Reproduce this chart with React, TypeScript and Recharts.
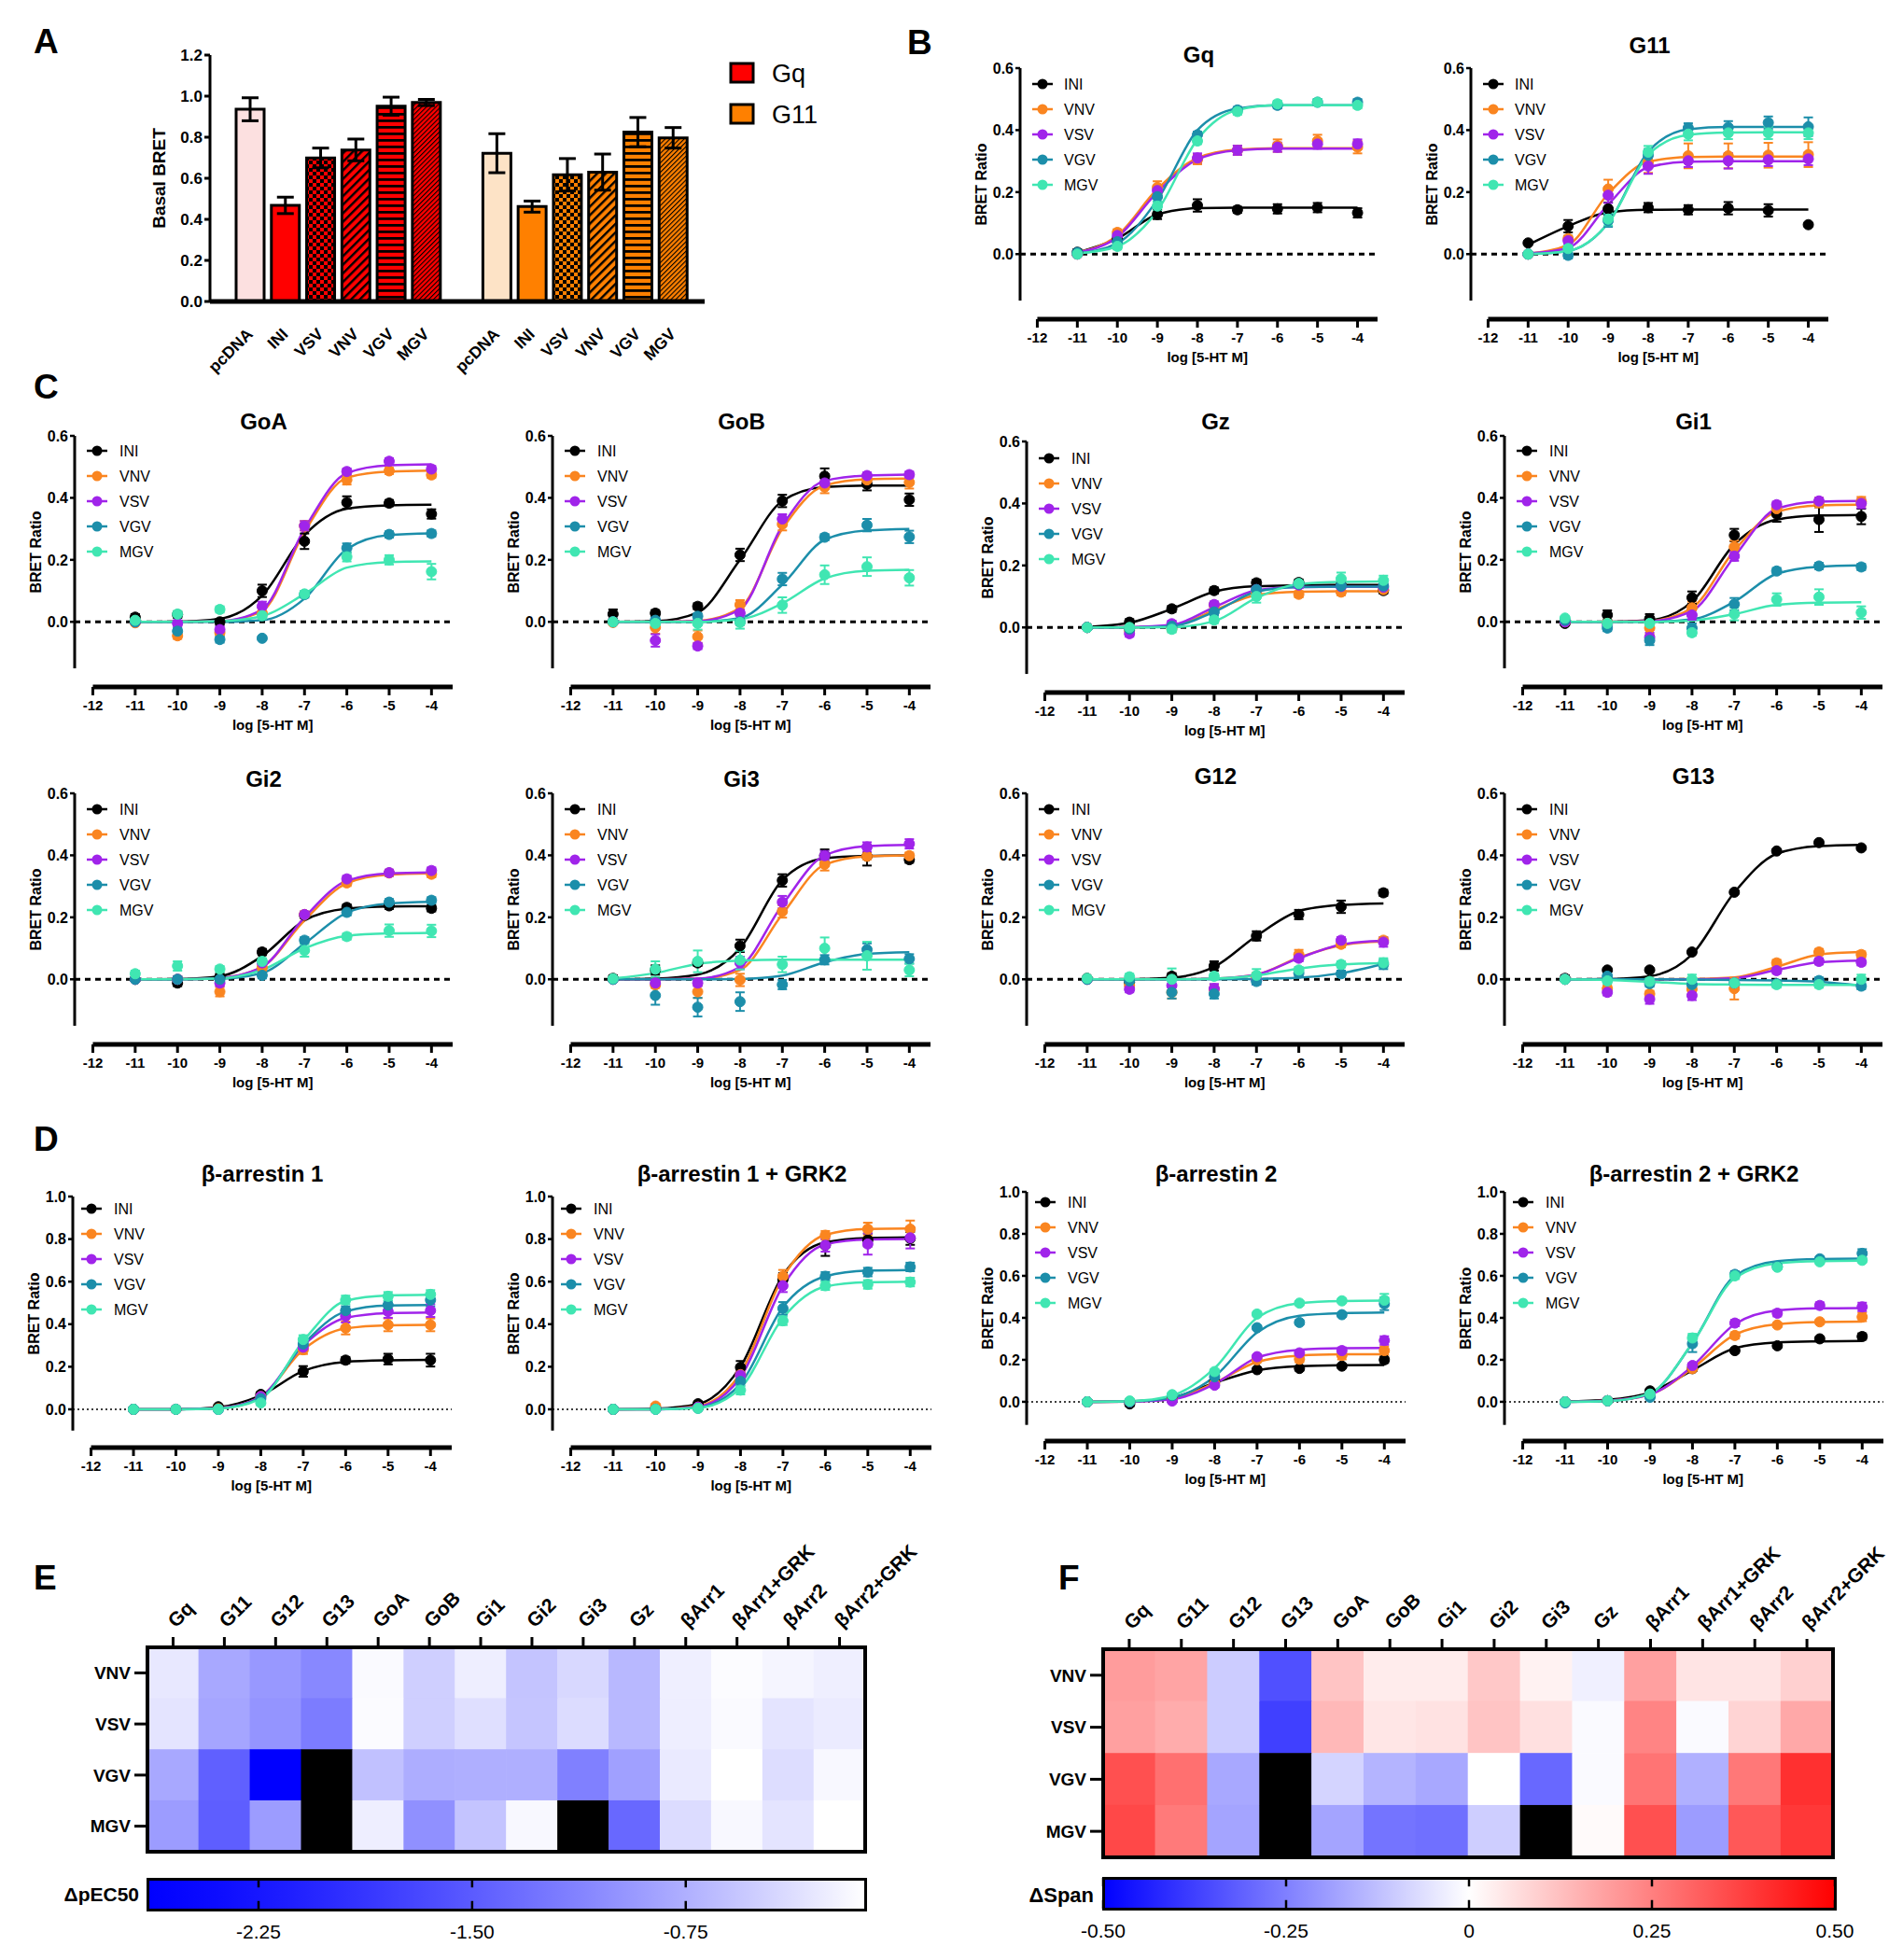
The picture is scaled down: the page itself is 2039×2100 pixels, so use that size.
import React from 'react';
import {
  ComposedChart, BarChart, ScatterChart, Bar, Line, Scatter, XAxis, YAxis,
  ErrorBar, Cell, ReferenceLine, ReferenceArea,
} from 'recharts';

const FONT = '"Liberation Sans", Arial, Helvetica, sans-serif';

// ---------------- Panel A data ----------------
const A_GROUPS = ['Gq', 'G11'];
const A_VARIANTS = ['pcDNA', 'INI', 'VSV', 'VNV', 'VGV', 'MGV'];
const A_GQ_MEAN = [0.936, 0.468, 0.699, 0.738, 0.951, 0.969];
const A_GQ_ERR = [0.056, 0.04, 0.048, 0.053, 0.044, 0.015];
const A_G11_MEAN = [0.722, 0.462, 0.617, 0.63, 0.825, 0.797];
const A_G11_ERR = [0.095, 0.027, 0.079, 0.088, 0.071, 0.05];
const A_TICKS = [0, 0.2, 0.4, 0.6, 0.8, 1.0, 1.2];

// ---------------- Dose-response data ----------------
const LOG_DOSE = [-11, -10, -9, -8, -7, -6, -5, -4];
const X_TICKS = [-12, -11, -10, -9, -8, -7, -6, -5, -4];
const SERIES = ['INI', 'VNV', 'VSV', 'VGV', 'MGV'];
const COLORS: Record<string, string> = {
  INI: '#000000', VNV: '#FA8520', VSV: '#A024EA', VGV: '#1C8EAA', MGV: '#40E6B2',
};
const G_TICKS = [0, 0.2, 0.4, 0.6];
const ARR_TICKS = [0, 0.2, 0.4, 0.6, 0.8, 1.0];

const GQ_MEAN = {
  INI: [0.006, 0.05, 0.128, 0.157, 0.143, 0.146, 0.15, 0.133],
  VNV: [0.0, 0.07, 0.215, 0.305, 0.335, 0.35, 0.365, 0.345],
  VSV: [0.0, 0.06, 0.205, 0.31, 0.335, 0.345, 0.355, 0.355],
  VGV: [0.005, 0.04, 0.185, 0.385, 0.465, 0.48, 0.49, 0.49],
  MGV: [0.0, 0.025, 0.155, 0.365, 0.46, 0.485, 0.49, 0.48],
};
const GQ_FIT = {
  INI: [0.005, 0.05, 0.128, 0.148, 0.15, 0.15, 0.15, 0.15],
  VNV: [0.005, 0.06, 0.21, 0.31, 0.337, 0.342, 0.342, 0.342],
  VSV: [0.005, 0.055, 0.2, 0.305, 0.335, 0.34, 0.34, 0.34],
  VGV: [0.002, 0.035, 0.175, 0.4, 0.47, 0.48, 0.48, 0.48],
  MGV: [0.002, 0.025, 0.14, 0.37, 0.465, 0.48, 0.48, 0.48],
};
const GQ_ERR = {
  INI: [0.01, 0.01, 0.015, 0.02, 0.01, 0.015, 0.015, 0.015],
  VNV: [0.005, 0.01, 0.02, 0.015, 0.015, 0.02, 0.02, 0.02],
  VSV: [0.005, 0.01, 0.015, 0.015, 0.015, 0.015, 0.015, 0.015],
  VGV: [0.005, 0.01, 0.015, 0.01, 0.01, 0.01, 0.01, 0.01],
  MGV: [0.005, 0.01, 0.015, 0.01, 0.01, 0.01, 0.01, 0.01],
};

const G11_MEAN = {
  INI: [0.036, 0.09, 0.146, 0.15, 0.143, 0.148, 0.141, 0.095],
  VNV: [0.0, 0.05, 0.21, 0.297, 0.317, 0.317, 0.319, 0.321],
  VSV: [0.0, 0.043, 0.19, 0.284, 0.301, 0.301, 0.304, 0.307],
  VGV: [0.0, -0.004, 0.108, 0.319, 0.407, 0.409, 0.424, 0.411],
  MGV: [0.0, 0.018, 0.113, 0.329, 0.387, 0.391, 0.391, 0.391],
};
const G11_FIT = {
  INI: [0.03, 0.09, 0.135, 0.143, 0.144, 0.144, 0.144, 0.144],
  VNV: [0.002, 0.03, 0.195, 0.298, 0.313, 0.315, 0.315, 0.315],
  VSV: [0.002, 0.02, 0.16, 0.28, 0.298, 0.3, 0.3, 0.3],
  VGV: [0.0, 0.01, 0.1, 0.33, 0.403, 0.41, 0.41, 0.41],
  MGV: [0.0, 0.01, 0.1, 0.32, 0.385, 0.392, 0.393, 0.393],
};
const G11_ERR = {
  INI: [0.005, 0.02, 0.02, 0.015, 0.015, 0.02, 0.02, 0.005],
  VNV: [0.005, 0.01, 0.03, 0.035, 0.04, 0.04, 0.04, 0.04],
  VSV: [0.005, 0.01, 0.025, 0.025, 0.02, 0.025, 0.02, 0.02],
  VGV: [0.005, 0.01, 0.02, 0.02, 0.015, 0.02, 0.02, 0.03],
  MGV: [0.005, 0.01, 0.02, 0.02, 0.02, 0.02, 0.02, 0.02],
};

const GOA_MEAN = {
  INI: [0.015, 0.023, 0.0, 0.1, 0.26, 0.385, 0.383, 0.348],
  VNV: [-0.003, -0.045, -0.035, 0.028, 0.31, 0.458, 0.487, 0.474],
  VSV: [0.0, -0.005, -0.025, 0.05, 0.31, 0.485, 0.518, 0.493],
  VGV: [0.0, -0.03, -0.057, -0.053, 0.088, 0.238, 0.282, 0.285],
  MGV: [0.005, 0.025, 0.04, 0.02, 0.09, 0.21, 0.2, 0.162],
};
const GOA_FIT = {
  INI: [0.0, 0.001, 0.01, 0.085, 0.28, 0.365, 0.376, 0.378],
  VNV: [0.0, 0.0, 0.002, 0.035, 0.29, 0.465, 0.485, 0.488],
  VSV: [0.0, 0.0, 0.002, 0.04, 0.3, 0.48, 0.505, 0.508],
  VGV: [0.0, 0.0, 0.0, 0.005, 0.075, 0.235, 0.28, 0.285],
  MGV: [0.0, 0.0, 0.002, 0.018, 0.09, 0.175, 0.193, 0.195],
};
const GOA_ERR = {
  INI: [0.01, 0.01, 0.01, 0.02, 0.025, 0.02, 0.01, 0.015],
  VNV: [0.005, 0.01, 0.01, 0.015, 0.015, 0.015, 0.01, 0.01],
  VSV: [0.005, 0.01, 0.01, 0.015, 0.015, 0.01, 0.01, 0.01],
  VGV: [0.005, 0.01, 0.01, 0.005, 0.01, 0.015, 0.01, 0.01],
  MGV: [0.005, 0.01, 0.01, 0.01, 0.01, 0.015, 0.015, 0.025],
};

const GOB_MEAN = {
  INI: [0.025, 0.028, 0.05, 0.216, 0.39, 0.47, 0.444, 0.394],
  VNV: [-0.002, -0.018, -0.048, 0.055, 0.315, 0.435, 0.458, 0.45],
  VSV: [0.0, -0.06, -0.078, 0.028, 0.332, 0.448, 0.472, 0.475],
  VGV: [0.0, 0.005, 0.018, 0.0, 0.138, 0.273, 0.312, 0.274],
  MGV: [0.0, -0.005, -0.005, -0.002, 0.054, 0.152, 0.178, 0.142],
};
const GOB_FIT = {
  INI: [0.0, 0.002, 0.03, 0.2, 0.39, 0.435, 0.44, 0.44],
  VNV: [0.0, 0.0, 0.003, 0.045, 0.3, 0.44, 0.46, 0.462],
  VSV: [0.0, 0.0, 0.002, 0.04, 0.31, 0.455, 0.472, 0.475],
  VGV: [0.0, 0.0, 0.0, 0.012, 0.12, 0.265, 0.295, 0.3],
  MGV: [0.0, 0.0, 0.0, 0.008, 0.06, 0.14, 0.165, 0.168],
};
const GOB_ERR = {
  INI: [0.015, 0.01, 0.01, 0.02, 0.02, 0.025, 0.02, 0.02],
  VNV: [0.005, 0.02, 0.02, 0.015, 0.02, 0.02, 0.015, 0.02],
  VSV: [0.005, 0.02, 0.01, 0.01, 0.015, 0.015, 0.01, 0.01],
  VGV: [0.005, 0.01, 0.01, 0.01, 0.02, 0.01, 0.02, 0.02],
  MGV: [0.005, 0.01, 0.02, 0.02, 0.025, 0.03, 0.03, 0.025],
};

const GZ_MEAN = {
  INI: [0.0, 0.017, 0.06, 0.119, 0.144, 0.145, 0.136, 0.119],
  VNV: [0.0, -0.01, -0.003, 0.072, 0.112, 0.107, 0.114, 0.122],
  VSV: [0.0, -0.02, 0.012, 0.074, 0.122, 0.137, 0.132, 0.13],
  VGV: [0.0, -0.005, 0.004, 0.05, 0.122, 0.14, 0.134, 0.134],
  MGV: [0.0, 0.0, -0.006, 0.024, 0.1, 0.142, 0.157, 0.152],
};
const GZ_FIT = {
  INI: [0.002, 0.015, 0.06, 0.115, 0.133, 0.136, 0.137, 0.137],
  VNV: [0.0, 0.0, 0.005, 0.055, 0.105, 0.115, 0.117, 0.117],
  VSV: [0.0, 0.001, 0.008, 0.065, 0.12, 0.13, 0.131, 0.131],
  VGV: [0.0, 0.0, 0.004, 0.05, 0.115, 0.13, 0.132, 0.132],
  MGV: [0.0, 0.0, 0.001, 0.02, 0.095, 0.14, 0.147, 0.148],
};
const GZ_ERR = {
  INI: [0.005, 0.01, 0.01, 0.01, 0.01, 0.01, 0.01, 0.01],
  VNV: [0.005, 0.01, 0.01, 0.01, 0.01, 0.01, 0.01, 0.01],
  VSV: [0.005, 0.01, 0.01, 0.01, 0.01, 0.01, 0.01, 0.01],
  VGV: [0.005, 0.01, 0.01, 0.01, 0.01, 0.01, 0.01, 0.01],
  MGV: [0.005, 0.01, 0.01, 0.01, 0.02, 0.01, 0.02, 0.015],
};

const GI1_MEAN = {
  INI: [-0.005, 0.022, 0.01, 0.078, 0.28, 0.348, 0.33, 0.34],
  VNV: [0.0, -0.005, -0.02, 0.045, 0.242, 0.365, 0.385, 0.388],
  VSV: [0.0, -0.01, -0.05, 0.022, 0.212, 0.378, 0.39, 0.382],
  VGV: [0.005, -0.02, -0.06, -0.02, 0.057, 0.164, 0.18, 0.177],
  MGV: [0.012, -0.005, -0.005, -0.035, 0.025, 0.072, 0.08, 0.03],
};
const GI1_FIT = {
  INI: [0.0, 0.0, 0.005, 0.065, 0.25, 0.33, 0.343, 0.345],
  VNV: [0.0, 0.0, 0.003, 0.045, 0.23, 0.355, 0.376, 0.378],
  VSV: [0.0, 0.0, 0.002, 0.035, 0.21, 0.365, 0.388, 0.39],
  VGV: [0.0, 0.0, 0.0, 0.008, 0.065, 0.155, 0.178, 0.182],
  MGV: [0.0, 0.0, 0.0, 0.004, 0.025, 0.055, 0.062, 0.063],
};
const GI1_ERR = {
  INI: [0.005, 0.015, 0.015, 0.02, 0.02, 0.025, 0.04, 0.025],
  VNV: [0.005, 0.01, 0.02, 0.02, 0.02, 0.015, 0.015, 0.015],
  VSV: [0.005, 0.01, 0.015, 0.015, 0.015, 0.01, 0.01, 0.015],
  VGV: [0.005, 0.01, 0.015, 0.015, 0.02, 0.01, 0.01, 0.01],
  MGV: [0.005, 0.01, 0.01, 0.01, 0.02, 0.02, 0.025, 0.02],
};

const GI2_MEAN = {
  INI: [0.0, -0.012, 0.008, 0.088, 0.207, 0.232, 0.237, 0.229],
  VNV: [0.0, 0.0, -0.04, 0.038, 0.209, 0.311, 0.343, 0.339],
  VSV: [0.0, 0.0, -0.012, 0.053, 0.209, 0.324, 0.344, 0.351],
  VGV: [0.0, 0.0, 0.0, 0.013, 0.126, 0.216, 0.249, 0.255],
  MGV: [0.018, 0.043, 0.033, 0.058, 0.093, 0.138, 0.157, 0.156],
};
const GI2_FIT = {
  INI: [0.0, 0.001, 0.01, 0.075, 0.19, 0.228, 0.235, 0.236],
  VNV: [0.0, 0.0, 0.004, 0.04, 0.19, 0.31, 0.338, 0.342],
  VSV: [0.0, 0.0, 0.004, 0.04, 0.2, 0.318, 0.342, 0.345],
  VGV: [0.0, 0.0, 0.002, 0.02, 0.115, 0.215, 0.245, 0.25],
  MGV: [0.0, 0.0, 0.003, 0.03, 0.1, 0.14, 0.148, 0.15],
};
const GI2_ERR = {
  INI: [0.005, 0.01, 0.01, 0.01, 0.01, 0.01, 0.01, 0.01],
  VNV: [0.005, 0.01, 0.015, 0.01, 0.01, 0.01, 0.01, 0.01],
  VSV: [0.005, 0.01, 0.01, 0.01, 0.01, 0.01, 0.01, 0.01],
  VGV: [0.005, 0.01, 0.01, 0.01, 0.01, 0.01, 0.01, 0.01],
  MGV: [0.01, 0.015, 0.01, 0.01, 0.02, 0.01, 0.02, 0.02],
};

const GI3_MEAN = {
  INI: [0.003, 0.03, 0.053, 0.108, 0.319, 0.399, 0.397, 0.386],
  VNV: [0.0, -0.018, -0.04, -0.002, 0.219, 0.371, 0.397, 0.399],
  VSV: [0.0, -0.012, -0.012, 0.053, 0.249, 0.399, 0.427, 0.437],
  VGV: [0.0, -0.052, -0.09, -0.072, -0.017, 0.063, 0.096, 0.066],
  MGV: [0.002, 0.033, 0.058, 0.062, 0.048, 0.1, 0.076, 0.03],
};
const GI3_FIT = {
  INI: [0.0, 0.002, 0.015, 0.1, 0.32, 0.39, 0.398, 0.4],
  VNV: [0.0, 0.0, 0.002, 0.03, 0.21, 0.37, 0.397, 0.4],
  VSV: [0.0, 0.0, 0.002, 0.04, 0.24, 0.4, 0.43, 0.434],
  VGV: [0.0, 0.0, 0.0, 0.001, 0.012, 0.055, 0.082, 0.087],
  MGV: [0.003, 0.02, 0.05, 0.06, 0.063, 0.063, 0.063, 0.063],
};
const GI3_ERR = {
  INI: [0.01, 0.015, 0.01, 0.02, 0.02, 0.02, 0.03, 0.01],
  VNV: [0.005, 0.01, 0.02, 0.02, 0.02, 0.02, 0.01, 0.01],
  VSV: [0.005, 0.01, 0.01, 0.02, 0.02, 0.015, 0.015, 0.015],
  VGV: [0.005, 0.03, 0.03, 0.03, 0.015, 0.015, 0.02, 0.015],
  MGV: [0.005, 0.025, 0.035, 0.03, 0.025, 0.035, 0.045, 0.02],
};

const G12_MEAN = {
  INI: [0.003, -0.01, 0.01, 0.043, 0.14, 0.209, 0.234, 0.279],
  VNV: [0.0, -0.02, -0.042, -0.032, 0.006, 0.08, 0.113, 0.126],
  VSV: [0.0, -0.032, -0.02, -0.03, -0.002, 0.068, 0.126, 0.12],
  VGV: [0.0, -0.005, -0.042, -0.047, -0.007, 0.02, 0.018, 0.048],
  MGV: [0.003, 0.008, 0.0, 0.01, 0.013, 0.03, 0.048, 0.053],
};
const G12_FIT = {
  INI: [0.0, 0.0, 0.005, 0.04, 0.14, 0.22, 0.24, 0.245],
  VNV: [0.0, 0.0, 0.0, 0.002, 0.015, 0.07, 0.11, 0.123],
  VSV: [0.0, 0.0, 0.0, 0.002, 0.015, 0.068, 0.112, 0.125],
  VGV: [0.0, 0.0, 0.0, 0.0, 0.001, 0.005, 0.02, 0.05],
  MGV: [0.0, 0.0, 0.0, 0.002, 0.012, 0.035, 0.048, 0.052],
};
const G12_ERR = {
  INI: [0.005, 0.01, 0.01, 0.015, 0.015, 0.015, 0.02, 0.01],
  VNV: [0.005, 0.01, 0.02, 0.015, 0.015, 0.015, 0.01, 0.01],
  VSV: [0.005, 0.01, 0.02, 0.015, 0.015, 0.01, 0.01, 0.015],
  VGV: [0.005, 0.01, 0.02, 0.015, 0.01, 0.01, 0.01, 0.015],
  MGV: [0.005, 0.01, 0.035, 0.01, 0.02, 0.01, 0.01, 0.015],
};

const G13_MEAN = {
  INI: [0.003, 0.03, 0.03, 0.088, 0.281, 0.414, 0.441, 0.424],
  VNV: [0.0, -0.03, -0.047, -0.032, -0.03, 0.053, 0.088, 0.08],
  VSV: [0.0, -0.042, -0.064, -0.052, -0.012, 0.028, 0.058, 0.055],
  VGV: [0.0, 0.01, -0.014, -0.017, -0.012, -0.014, -0.004, -0.022],
  MGV: [0.0, -0.005, -0.007, 0.0, -0.012, -0.017, -0.017, 0.0],
};
const G13_FIT = {
  INI: [0.0, 0.001, 0.01, 0.08, 0.28, 0.405, 0.43, 0.434],
  VNV: [0.0, 0.0, 0.0, 0.001, 0.006, 0.04, 0.08, 0.088],
  VSV: [0.0, 0.0, 0.0, 0.0, 0.004, 0.03, 0.055, 0.06],
  VGV: [0.0, 0.0, 0.0, -0.001, -0.002, -0.004, -0.008, -0.02],
  MGV: [0.0, -0.002, -0.008, -0.015, -0.017, -0.018, -0.018, -0.018],
};
const G13_ERR = {
  INI: [0.01, 0.005, 0.005, 0.005, 0.005, 0.005, 0.005, 0.005],
  VNV: [0.005, 0.01, 0.01, 0.01, 0.035, 0.01, 0.01, 0.01],
  VSV: [0.005, 0.01, 0.015, 0.015, 0.01, 0.01, 0.01, 0.01],
  VGV: [0.005, 0.01, 0.01, 0.01, 0.01, 0.01, 0.01, 0.01],
  MGV: [0.005, 0.01, 0.01, 0.015, 0.01, 0.01, 0.01, 0.015],
};

const BA1_MEAN = {
  INI: [0.0, 0.0, 0.012, 0.07, 0.178, 0.231, 0.236, 0.231],
  VNV: [0.0, 0.0, 0.003, 0.06, 0.28, 0.382, 0.397, 0.397],
  VSV: [0.0, 0.0, 0.0, 0.06, 0.292, 0.438, 0.46, 0.464],
  VGV: [0.0, 0.0, 0.0, 0.05, 0.307, 0.464, 0.49, 0.514],
  MGV: [0.0, 0.0, 0.0, 0.03, 0.328, 0.514, 0.531, 0.54],
};
const BA1_FIT = {
  INI: [0.0, 0.0, 0.01, 0.065, 0.18, 0.223, 0.23, 0.232],
  VNV: [0.0, 0.0, 0.005, 0.06, 0.28, 0.38, 0.395, 0.397],
  VSV: [0.0, 0.0, 0.005, 0.06, 0.3, 0.43, 0.452, 0.455],
  VGV: [0.0, 0.0, 0.004, 0.055, 0.305, 0.46, 0.488, 0.49],
  MGV: [0.0, 0.0, 0.003, 0.05, 0.32, 0.51, 0.535, 0.538],
};
const BA1_ERR = {
  INI: [0.005, 0.005, 0.01, 0.01, 0.025, 0.015, 0.025, 0.03],
  VNV: [0.005, 0.005, 0.01, 0.01, 0.02, 0.03, 0.03, 0.03],
  VSV: [0.005, 0.005, 0.01, 0.01, 0.02, 0.03, 0.03, 0.03],
  VGV: [0.005, 0.005, 0.01, 0.01, 0.02, 0.02, 0.02, 0.03],
  MGV: [0.005, 0.005, 0.01, 0.01, 0.02, 0.02, 0.02, 0.02],
};

const BA1G_MEAN = {
  INI: [0.0, 0.005, 0.026, 0.197, 0.61, 0.771, 0.796, 0.803],
  VNV: [0.0, 0.015, 0.01, 0.163, 0.625, 0.818, 0.847, 0.847],
  VSV: [0.0, 0.0, 0.01, 0.16, 0.581, 0.771, 0.777, 0.806],
  VGV: [0.0, 0.0, 0.005, 0.131, 0.474, 0.625, 0.645, 0.669],
  MGV: [0.0, 0.0, 0.005, 0.09, 0.416, 0.581, 0.587, 0.598],
};
const BA1G_FIT = {
  INI: [0.0, 0.003, 0.025, 0.2, 0.63, 0.785, 0.805, 0.808],
  VNV: [0.0, 0.0, 0.015, 0.17, 0.62, 0.82, 0.848, 0.85],
  VSV: [0.0, 0.0, 0.012, 0.15, 0.58, 0.775, 0.798, 0.8],
  VGV: [0.0, 0.0, 0.008, 0.12, 0.48, 0.625, 0.652, 0.655],
  MGV: [0.0, 0.0, 0.006, 0.1, 0.43, 0.577, 0.597, 0.6],
};
const BA1G_ERR = {
  INI: [0.005, 0.005, 0.01, 0.03, 0.03, 0.05, 0.03, 0.03],
  VNV: [0.005, 0.01, 0.01, 0.02, 0.03, 0.02, 0.03, 0.04],
  VSV: [0.005, 0.005, 0.01, 0.02, 0.03, 0.03, 0.05, 0.05],
  VGV: [0.005, 0.005, 0.01, 0.02, 0.03, 0.02, 0.02, 0.02],
  MGV: [0.005, 0.005, 0.01, 0.02, 0.02, 0.02, 0.02, 0.02],
};

const BA2_MEAN = {
  INI: [0.0, -0.01, 0.019, 0.096, 0.153, 0.159, 0.17, 0.2],
  VNV: [0.0, 0.0, 0.01, 0.089, 0.2, 0.203, 0.222, 0.244],
  VSV: [0.0, 0.0, 0.004, 0.079, 0.215, 0.233, 0.244, 0.292],
  VGV: [0.0, 0.0, 0.03, 0.119, 0.353, 0.378, 0.415, 0.467],
  MGV: [0.0, 0.004, 0.034, 0.144, 0.418, 0.47, 0.481, 0.484],
};
const BA2_FIT = {
  INI: [0.0, 0.002, 0.02, 0.09, 0.15, 0.17, 0.174, 0.175],
  VNV: [0.0, 0.001, 0.015, 0.09, 0.19, 0.22, 0.226, 0.227],
  VSV: [0.0, 0.001, 0.012, 0.085, 0.21, 0.248, 0.255, 0.256],
  VGV: [0.0, 0.002, 0.02, 0.12, 0.33, 0.41, 0.422, 0.425],
  MGV: [0.0, 0.003, 0.03, 0.16, 0.4, 0.47, 0.48, 0.482],
};
const BA2_ERR = {
  INI: [0.005, 0.01, 0.01, 0.01, 0.01, 0.01, 0.01, 0.015],
  VNV: [0.005, 0.005, 0.01, 0.01, 0.01, 0.015, 0.02, 0.02],
  VSV: [0.005, 0.005, 0.01, 0.01, 0.01, 0.01, 0.015, 0.02],
  VGV: [0.005, 0.005, 0.01, 0.01, 0.01, 0.01, 0.01, 0.03],
  MGV: [0.005, 0.005, 0.01, 0.01, 0.01, 0.01, 0.01, 0.03],
};

const BA2G_MEAN = {
  INI: [0.0, 0.005, 0.052, 0.158, 0.244, 0.267, 0.3, 0.311],
  VNV: [0.0, 0.005, 0.03, 0.158, 0.316, 0.366, 0.381, 0.404],
  VSV: [0.0, 0.005, 0.035, 0.173, 0.375, 0.422, 0.459, 0.452],
  VGV: [-0.005, 0.005, 0.022, 0.277, 0.607, 0.644, 0.681, 0.707],
  MGV: [0.0, 0.005, 0.037, 0.304, 0.6, 0.641, 0.667, 0.674],
};
const BA2G_FIT = {
  INI: [0.002, 0.01, 0.045, 0.15, 0.255, 0.283, 0.288, 0.29],
  VNV: [0.0, 0.005, 0.035, 0.16, 0.32, 0.37, 0.38, 0.382],
  VSV: [0.0, 0.005, 0.035, 0.17, 0.37, 0.435, 0.445, 0.447],
  VGV: [0.0, 0.003, 0.04, 0.28, 0.6, 0.67, 0.68, 0.682],
  MGV: [0.0, 0.003, 0.04, 0.28, 0.59, 0.66, 0.67, 0.672],
};
const BA2G_ERR = {
  INI: [0.005, 0.005, 0.01, 0.01, 0.01, 0.01, 0.01, 0.015],
  VNV: [0.005, 0.005, 0.01, 0.01, 0.015, 0.01, 0.01, 0.02],
  VSV: [0.005, 0.005, 0.01, 0.01, 0.015, 0.015, 0.015, 0.02],
  VGV: [0.005, 0.005, 0.01, 0.04, 0.015, 0.01, 0.01, 0.02],
  MGV: [0.005, 0.005, 0.01, 0.02, 0.015, 0.01, 0.01, 0.01],
};

// ---------------- Heatmap data ----------------
const HEAT_COLS = ['Gq', 'G11', 'G12', 'G13', 'GoA', 'GoB', 'Gi1', 'Gi2', 'Gi3', 'Gz', 'βArr1', 'βArr1+GRK', 'βArr2', 'βArr2+GRK'];
const HEAT_ROWS = ['VNV', 'VSV', 'VGV', 'MGV'];
const E_VNV = [-0.30, -0.81, -0.95, -1.09, -0.16, -0.49, -0.25, -0.58, -0.42, -0.68, -0.24, -0.14, -0.20, -0.24];
const E_VSV = [-0.33, -0.84, -0.98, -1.19, -0.15, -0.49, -0.37, -0.57, -0.39, -0.68, -0.25, -0.16, -0.33, -0.27];
const E_VGV = [-0.81, -1.45, -2.64, null, -0.61, -0.77, -0.75, -0.75, -1.16, -0.88, -0.28, -0.12, -0.38, -0.17];
const E_MGV = [-0.91, -1.47, -0.91, null, -0.25, -1.02, -0.58, -0.17, null, -1.38, -0.39, -0.17, -0.33, -0.12];
const E_RANGE = [-2.64, -0.12];
const E_TICKS = [-2.25, -1.5, -0.75];
const F_VNV = [0.194, 0.178, -0.10, -0.343, 0.116, 0.037, 0.037, 0.108, 0.025, -0.03, 0.186, 0.053, 0.053, 0.092];
const F_VSV = [0.186, 0.163, -0.10, -0.375, 0.139, 0.049, 0.057, 0.116, 0.061, -0.01, 0.241, -0.01, 0.084, 0.171];
const F_VGV = [0.343, 0.28, -0.17, null, -0.084, -0.147, -0.17, 0.0, -0.296, -0.01, 0.273, -0.155, 0.265, 0.406];
const F_MGV = [0.359, 0.261, -0.178, null, -0.178, -0.273, -0.28, -0.096, null, 0.01, 0.343, -0.194, 0.327, 0.39];
const F_RANGE = [-0.5, 0.5];
const F_TICKS = [-0.5, -0.25, 0, 0.25, 0.5];

// ---------------- colour helpers ----------------
const clamp01 = (t: number) => Math.max(0, Math.min(1, t));
function eColor(v: number | null) {
  if (v == null) return '#000000';
  const t = clamp01((v - E_RANGE[0]) / (E_RANGE[1] - E_RANGE[0]));
  const c = Math.round(255 * Math.pow(t, 1.3));
  return `rgb(${c},${c},255)`;
}
function fColor(v: number | null) {
  if (v == null) return '#000000';
  const t = clamp01(Math.abs(v) / 0.5);
  const c = Math.round(255 * (1 - t));
  return v < 0 ? `rgb(${c},${c},255)` : `rgb(255,${c},${c})`;
}

const BASE: Record<string, string> = { Gq: '#FF0000', G11: '#FF8000' };
const LIGHT: Record<string, string> = { Gq: '#FCE0E0', G11: '#FDE3C6' };
function barFill(g: string, v: string) {
  if (v === 'pcDNA') return LIGHT[g];
  if (v === 'INI') return BASE[g];
  if (v === 'VSV') return `url(#chk-${g})`;
  if (v === 'VNV') return `url(#diag-${g})`;
  if (v === 'VGV') return `url(#hstr-${g})`;
  return `url(#fine-${g})`;
}

function Defs() {
  const eStops = Array.from({ length: 11 }, (_, i) => i / 10);
  return (
    <svg width={0} height={0} style={{ position: 'absolute', left: 0, top: 0 }}>
      <defs>
        {A_GROUPS.map((g) => (
          <React.Fragment key={g}>
            <pattern id={`chk-${g}`} width={8} height={8} patternUnits="userSpaceOnUse">
              <rect width={8} height={8} fill={BASE[g]} />
              <rect width={4} height={4} fill="#000" />
              <rect x={4} y={4} width={4} height={4} fill="#000" />
            </pattern>
            <pattern id={`diag-${g}`} width={6.5} height={6.5} patternUnits="userSpaceOnUse" patternTransform="rotate(45)">
              <rect width={6.5} height={6.5} fill={BASE[g]} />
              <rect width={2.4} height={6.5} fill="#000" />
            </pattern>
            <pattern id={`hstr-${g}`} width={10} height={7} patternUnits="userSpaceOnUse">
              <rect width={10} height={7} fill={BASE[g]} />
              <rect width={10} height={2.8} fill="#000" />
            </pattern>
            <pattern id={`fine-${g}`} width={3.6} height={3.6} patternUnits="userSpaceOnUse" patternTransform="rotate(45)">
              <rect width={3.6} height={3.6} fill={BASE[g]} />
              <rect width={1.1} height={3.6} fill="#000" />
            </pattern>
          </React.Fragment>
        ))}
        <linearGradient id="gradE" x1="0" x2="1" y1="0" y2="0">
          {eStops.map((t) => (
            <stop key={t} offset={t} stopColor={eColor(E_RANGE[0] + t * (E_RANGE[1] - E_RANGE[0]))} />
          ))}
        </linearGradient>
        <linearGradient id="gradF" x1="0" x2="1" y1="0" y2="0">
          <stop offset={0} stopColor="#0000FF" />
          <stop offset={0.5} stopColor="#FFFFFF" />
          <stop offset={1} stopColor="#FF0000" />
        </linearGradient>
      </defs>
    </svg>
  );
}

// ---------------- Panel A ----------------
function PanelA() {
  const ML = 70, MT = 15, MB = 90, MR = 15;
  const plotLeft = 225, plotTop = 59, plotW = 530, plotH = 264;
  const W = ML + plotW + MR, H = MT + plotH + MB;
  const rows: any[] = [];
  const labels: Record<string, string> = {};
  A_GROUPS.forEach((g, gi) => {
    const mean = gi === 0 ? A_GQ_MEAN : A_G11_MEAN;
    const err = gi === 0 ? A_GQ_ERR : A_G11_ERR;
    A_VARIANTS.forEach((v, i) => {
      const key = `${g}-${v}`;
      labels[key] = v;
      rows.push({ key, v: mean[i], e: err[i], fill: barFill(g, v) });
    });
    if (gi === 0) {
      labels.gap = '';
      rows.push({ key: 'gap', v: null, e: null, fill: 'none' });
    }
  });
  const ATick = (props: any) => {
    const { x, y, payload } = props;
    const ax = x + 4, ay = y + 36;
    return (
      <text x={ax} y={ay} textAnchor="end" transform={`rotate(-45 ${ax} ${ay})`} fontSize={17.5}
        fontWeight={700} fontFamily={FONT} fill="#000">
        {labels[payload.value]}
      </text>
    );
  };
  return (
    <div style={{ position: 'absolute', left: plotLeft - ML, top: plotTop - MT, width: W, height: H }}>
      <BarChart width={W} height={H} data={rows} margin={{ top: MT, right: MR, bottom: 0, left: 0 }}>
        <XAxis dataKey="key" type="category" interval={0} height={MB} padding={{ left: 24, right: 15 }}
          axisLine={{ stroke: '#000', strokeWidth: 5 }} tickLine={false} tickSize={0} tickMargin={0} tick={ATick} />
        <YAxis type="number" domain={[0, 1.2]} ticks={A_TICKS} interval={0} width={ML}
          axisLine={{ stroke: '#000', strokeWidth: 3 }} tickLine={{ stroke: '#000', strokeWidth: 3 }} tickSize={6} tickMargin={2}
          tickFormatter={(v: number) => v.toFixed(1)}
          tick={{ fontSize: 17, fontWeight: 700, fill: '#000', fontFamily: FONT }} />
        <Bar dataKey="v" barSize={30} stroke="#000" strokeWidth={3} isAnimationActive={false}>
          {rows.map((r) => (
            <Cell key={r.key} fill={r.fill} stroke={r.key === 'gap' ? 'none' : '#000'} />
          ))}
          <ErrorBar dataKey="e" width={9} stroke="#000" strokeWidth={3} />
        </Bar>
      </BarChart>
    </div>
  );
}

// ---------------- Dose-response chart ----------------
const ML = 64, MT = 30, MB = 70, MR = 20;
const X_MIN = -12.43, X_MAX = -3.5;

interface DoseProps {
  title: string;
  mean: Record<string, number[]>;
  fit: Record<string, number[]>;
  err: Record<string, number[]>;
  plotLeft: number; plotTop: number; plotW: number; plotH: number;
  yMin: number; yMax: number; yAxisBottom: number; yTicks: number[];
  titleDy: number; legendDy: number; legendDx: number; legendTextDx: number;
  zero: 'dash' | 'dot';
}

function DoseChart(p: DoseProps) {
  const { plotLeft, plotTop, plotW, plotH, yMin, yMax, yAxisBottom } = p;
  const W = ML + plotW + MR;
  const H = MT + plotH + MB;
  const sx = (v: number) => ML + ((v - X_MIN) / (X_MAX - X_MIN)) * plotW;
  const sy = (v: number) => MT + ((yMax - v) / (yMax - yMin)) * plotH;
  const data = LOG_DOSE.map((x, i) => {
    const row: any = { x };
    SERIES.forEach((s) => {
      row[`${s}_f`] = p.fit[s][i];
      row[`${s}_m`] = p.mean[s][i];
      row[`${s}_e`] = p.err[s][i];
    });
    return row;
  });
  const yLabelY = (sy(yMax) + sy(yAxisBottom)) / 2;
  const yLabelX = ML - 42 + 6;
  return (
    <div style={{ position: 'absolute', left: plotLeft - ML, top: plotTop - MT, width: W, height: H }}>
      <ComposedChart width={W} height={H} data={data} margin={{ top: MT, right: MR, bottom: 0, left: 0 }}>
        <XAxis type="number" dataKey="x" domain={[X_MIN, X_MAX]} ticks={X_TICKS} interval={0} height={MB}
          axisLine={false} tickLine={{ stroke: '#000', strokeWidth: 3 }} tickSize={9} tickMargin={5}
          tick={{ fontSize: 15, fontWeight: 700, fill: '#000', fontFamily: FONT }} />
        <YAxis type="number" domain={[yMin, yMax]} ticks={p.yTicks} interval={0} width={ML}
          axisLine={false} tickLine={{ stroke: '#000', strokeWidth: 2.5 }} tickSize={5} tickMargin={2}
          tickFormatter={(v: number) => v.toFixed(1)}
          tick={{ fontSize: 16, fontWeight: 700, fill: '#000', fontFamily: FONT }} />
        <ReferenceLine y={0} stroke="#000" strokeWidth={p.zero === 'dash' ? 3 : 1.6}
          strokeDasharray={p.zero === 'dash' ? '6 5' : '2 3'} ifOverflow="visible" />
        <ReferenceLine segment={[{ x: X_MIN, y: yAxisBottom }, { x: X_MIN, y: yMax }]} stroke="#000" strokeWidth={3} ifOverflow="visible" />
        <ReferenceLine segment={[{ x: -12, y: yMin }, { x: X_MAX, y: yMin }]} stroke="#000" strokeWidth={5} ifOverflow="visible" />
        {SERIES.map((s) => (
          <Line key={`${s}-fit`} type="monotone" dataKey={`${s}_f`} stroke={COLORS[s]} strokeWidth={2.5}
            dot={false} activeDot={false} isAnimationActive={false} />
        ))}
        {SERIES.map((s) => (
          <Line key={`${s}-pts`} dataKey={`${s}_m`} stroke="none" strokeWidth={0}
            dot={{ r: 5.5, fill: COLORS[s], stroke: COLORS[s], strokeWidth: 1 }} activeDot={false} isAnimationActive={false}>
            <ErrorBar dataKey={`${s}_e`} width={5} stroke={COLORS[s]} strokeWidth={2} />
          </Line>
        ))}
      </ComposedChart>
      <svg width={W} height={H} style={{ position: 'absolute', left: 0, top: 0, overflow: 'visible', pointerEvents: 'none' }}>
        <text x={ML + plotW / 2} y={MT + p.titleDy} textAnchor="middle" fontSize={24} fontWeight={700} fontFamily={FONT} fill="#000">
          {p.title}
        </text>
        <text x={(sx(-12) + sx(X_MAX)) / 2} y={MT + plotH + 46} textAnchor="middle" fontSize={15} fontWeight={700} fontFamily={FONT} fill="#000">
          log [5-HT M]
        </text>
        <text transform={`translate(${yLabelX},${yLabelY}) rotate(-90)`} textAnchor="middle" fontSize={16} fontWeight={700} fontFamily={FONT} fill="#000">
          BRET Ratio
        </text>
        {SERIES.map((s, i) => {
          const cy = MT + p.legendDy + i * 27;
          const cx = ML + p.legendDx;
          return (
            <g key={s}>
              <line x1={cx - 11} x2={cx + 11} y1={cy} y2={cy} stroke={COLORS[s]} strokeWidth={2.5} />
              <circle cx={cx} cy={cy} r={5.5} fill={COLORS[s]} />
              <text x={cx + p.legendTextDx} y={cy + 6} fontSize={16} fontFamily={FONT} fill="#000">{s}</text>
            </g>
          );
        })}
      </svg>
    </div>
  );
}

// ---------------- Heatmap ----------------
function Heatmap(props: { rows: (number | null)[][]; colorOf: (v: number | null) => string; plotLeft: number; plotTop: number; plotW: number; plotH: number }) {
  const { rows, colorOf, plotLeft, plotTop, plotW, plotH } = props;
  const HT = 150, HL = 80, HR = 140, HB = 10;
  const cw = plotW / HEAT_COLS.length, ch = plotH / HEAT_ROWS.length;
  const cells: any[] = [];
  rows.forEach((vals, r) => vals.forEach((v, c) => cells.push({ c, r, v })));
  const W = HL + plotW + HR, H = HT + plotH + HB;
  const ColTick = (tp: any) => {
    const { x, y, payload } = tp;
    const ax = x + 3, ay = y - 9;
    return (
      <text x={ax} y={ay} textAnchor="start" transform={`rotate(-45 ${ax} ${ay})`} fontSize={21}
        fontWeight={700} fontFamily={FONT} fill="#000">
        {HEAT_COLS[payload.value]}
      </text>
    );
  };
  return (
    <div style={{ position: 'absolute', left: plotLeft - HL, top: plotTop - HT, width: W, height: H }}>
      <ScatterChart width={W} height={H} margin={{ top: 0, right: HR, bottom: HB, left: 0 }}>
        <XAxis type="number" dataKey="c" orientation="top" domain={[-0.5, 13.5]}
          ticks={HEAT_COLS.map((_, i) => i)} interval={0} height={HT} axisLine={false}
          tickLine={{ stroke: '#000', strokeWidth: 3 }} tickSize={11} tickMargin={0} tick={ColTick} />
        <YAxis type="number" dataKey="r" domain={[-0.5, 3.5]} reversed ticks={[0, 1, 2, 3]} interval={0}
          width={HL} axisLine={false} tickLine={{ stroke: '#000', strokeWidth: 3 }} tickSize={14} tickMargin={4}
          tickFormatter={(v: number) => HEAT_ROWS[v]}
          tick={{ fontSize: 19, fontWeight: 700, fill: '#000', fontFamily: FONT }} />
        <Scatter data={cells} isAnimationActive={false}
          shape={(sp: any) => (
            <rect x={sp.cx - cw / 2 - 0.3} y={sp.cy - ch / 2 - 0.3} width={cw + 0.6} height={ch + 0.6} fill={colorOf(sp.payload.v)} />
          )} />
      </ScatterChart>
      <div style={{ position: 'absolute', left: HL - 2, top: HT - 2, width: plotW + 4, height: plotH + 4, border: '4px solid #000', boxSizing: 'border-box' }} />
    </div>
  );
}

function ColorBar(props: { plotLeft: number; plotTop: number; plotW: number; plotH: number; range: number[]; ticks: number[]; gradId: string; fmt: (v: number) => string }) {
  const { plotLeft, plotTop, plotW, plotH, range, ticks, gradId, fmt } = props;
  const PAD = 45, XB = 50;
  const W = plotW + 2 * PAD, H = plotH + XB;
  const data = ticks.map((t) => ({ x: t, y: 0.5 }));
  return (
    <div style={{ position: 'absolute', left: plotLeft - PAD, top: plotTop, width: W, height: H }}>
      <ComposedChart width={W} height={H} data={data} margin={{ top: 0, right: PAD, bottom: 0, left: PAD }}>
        <XAxis type="number" dataKey="x" domain={range} ticks={ticks} interval={0} height={XB}
          axisLine={false} tickLine={false} tickSize={0} tickMargin={16} tickFormatter={fmt}
          tick={{ fontSize: 21, fill: '#000', fontFamily: FONT }} />
        <YAxis type="number" domain={[0, 1]} hide />
        <ReferenceArea x1={range[0]} x2={range[1]} y1={0} y2={1} fill={`url(#${gradId})`} fillOpacity={1} stroke="none" ifOverflow="visible" />
        {ticks.map((t) => (
          <ReferenceLine key={`a${t}`} segment={[{ x: t, y: 1 }, { x: t, y: 0.72 }]} stroke="#000" strokeWidth={2.5} ifOverflow="visible" />
        ))}
        {ticks.map((t) => (
          <ReferenceLine key={`b${t}`} segment={[{ x: t, y: 0 }, { x: t, y: 0.28 }]} stroke="#000" strokeWidth={2.5} ifOverflow="visible" />
        ))}
        <Line dataKey="y" stroke="none" dot={false} activeDot={false} isAnimationActive={false} />
      </ComposedChart>
      <div style={{ position: 'absolute', left: PAD - 1.5, top: -1.5, width: plotW + 3, height: plotH + 3, border: '3px solid #000', boxSizing: 'border-box' }} />
    </div>
  );
}

const B_GEO = { plotW: 383, plotH: 269, yMin: -0.21, yMax: 0.6, yAxisBottom: -0.15, yTicks: G_TICKS, legendDx: 24, legendTextDx: 23, zero: 'dash' as const };
const C_GEO = { plotW: 405, plotH: 269, yMin: -0.21, yMax: 0.6, yAxisBottom: -0.15, yTicks: G_TICKS, legendDx: 24, legendTextDx: 24, zero: 'dash' as const };
const DL_GEO = { plotW: 406, plotH: 269, yMin: -0.18, yMax: 1.0, yAxisBottom: -0.1, yTicks: ARR_TICKS, legendDx: 20, legendTextDx: 24, zero: 'dot' as const };
const DR_GEO = { plotW: 406, plotH: 267, yMin: -0.187, yMax: 1.0, yAxisBottom: -0.11, yTicks: ARR_TICKS, legendDx: 20, legendTextDx: 24, zero: 'dot' as const };

export default function App() {
  const txt = { fontFamily: FONT, fill: '#000' };
  return (
    <div style={{ position: 'absolute', left: 0, top: 0, width: 2039, height: 2100, background: '#fff', fontFamily: FONT, overflow: 'hidden' }}>
      <Defs />
      <PanelA />

      <DoseChart title="Gq" mean={GQ_MEAN} fit={GQ_FIT} err={GQ_ERR} plotLeft={1093} plotTop={73} titleDy={-6} legendDy={17} {...B_GEO} />
      <DoseChart title="G11" mean={G11_MEAN} fit={G11_FIT} err={G11_ERR} plotLeft={1576} plotTop={73} titleDy={-16} legendDy={17} {...B_GEO} />

      <DoseChart title="GoA" mean={GOA_MEAN} fit={GOA_FIT} err={GOA_ERR} plotLeft={80} plotTop={467} titleDy={-7} legendDy={16} {...C_GEO} />
      <DoseChart title="GoB" mean={GOB_MEAN} fit={GOB_FIT} err={GOB_ERR} plotLeft={591.5} plotTop={467} titleDy={-7} legendDy={16} {...C_GEO} />
      <DoseChart title="Gz" mean={GZ_MEAN} fit={GZ_FIT} err={GZ_ERR} plotLeft={1100} plotTop={473} titleDy={-13} legendDy={18} {...C_GEO} />
      <DoseChart title="Gi1" mean={GI1_MEAN} fit={GI1_FIT} err={GI1_ERR} plotLeft={1611.5} plotTop={467} titleDy={-7} legendDy={16} {...C_GEO} />

      <DoseChart title="Gi2" mean={GI2_MEAN} fit={GI2_FIT} err={GI2_ERR} plotLeft={80} plotTop={850} titleDy={-7} legendDy={17} {...C_GEO} />
      <DoseChart title="Gi3" mean={GI3_MEAN} fit={GI3_FIT} err={GI3_ERR} plotLeft={591.5} plotTop={850} titleDy={-7} legendDy={17} {...C_GEO} />
      <DoseChart title="G12" mean={G12_MEAN} fit={G12_FIT} err={G12_ERR} plotLeft={1100} plotTop={850} titleDy={-10} legendDy={17} {...C_GEO} />
      <DoseChart title="G13" mean={G13_MEAN} fit={G13_FIT} err={G13_ERR} plotLeft={1611.5} plotTop={850} titleDy={-10} legendDy={17} {...C_GEO} />

      <DoseChart title="β-arrestin 1" mean={BA1_MEAN} fit={BA1_FIT} err={BA1_ERR} plotLeft={78.4} plotTop={1282} titleDy={-16} legendDy={13} {...DL_GEO} />
      <DoseChart title="β-arrestin 1 + GRK2" mean={BA1G_MEAN} fit={BA1G_FIT} err={BA1G_ERR} plotLeft={591.5} plotTop={1282} titleDy={-16} legendDy={13} {...DL_GEO} />
      <DoseChart title="β-arrestin 2" mean={BA2_MEAN} fit={BA2_FIT} err={BA2_ERR} plotLeft={1100} plotTop={1277} titleDy={-11} legendDy={11} {...DR_GEO} />
      <DoseChart title="β-arrestin 2 + GRK2" mean={BA2G_MEAN} fit={BA2G_FIT} err={BA2G_ERR} plotLeft={1611.5} plotTop={1277} titleDy={-11} legendDy={11} {...DR_GEO} />

      <Heatmap rows={[E_VNV, E_VSV, E_VGV, E_MGV]} colorOf={eColor} plotLeft={158} plotTop={1765} plotW={769} plotH={219} />
      <Heatmap rows={[F_VNV, F_VSV, F_VGV, F_MGV]} colorOf={fColor} plotLeft={1182} plotTop={1767} plotW={782} plotH={223} />
      <ColorBar plotLeft={158} plotTop={2013} plotW={769} plotH={33} range={E_RANGE} ticks={E_TICKS} gradId="gradE" fmt={(v) => v.toFixed(2)} />
      <ColorBar plotLeft={1182} plotTop={2012} plotW={784} plotH={33} range={F_RANGE} ticks={F_TICKS} gradId="gradF" fmt={(v) => (v === 0 ? '0' : v.toFixed(2))} />

      <svg width={2039} height={2100} style={{ position: 'absolute', left: 0, top: 0, pointerEvents: 'none' }}>
        <text x={36} y={57} fontSize={37} fontWeight={700} {...txt}>A</text>
        <text x={972} y={58} fontSize={37} fontWeight={700} {...txt}>B</text>
        <text x={36} y={427} fontSize={37} fontWeight={700} {...txt}>C</text>
        <text x={36} y={1233} fontSize={37} fontWeight={700} {...txt}>D</text>
        <text x={36} y={1703} fontSize={37} fontWeight={700} {...txt}>E</text>
        <text x={1134} y={1703} fontSize={37} fontWeight={700} {...txt}>F</text>
        <text transform="translate(177,191) rotate(-90)" textAnchor="middle" fontSize={19} fontWeight={700} {...txt}>Basal BRET</text>
        {A_GROUPS.map((g, i) => (
          <g key={g}>
            <rect x={783} y={68 + i * 44} width={24} height={20} fill={BASE[g]} stroke="#000" strokeWidth={3} />
            <text x={827} y={88 + i * 44} fontSize={27} {...txt}>{g}</text>
          </g>
        ))}
        <text x={149} y={2037} textAnchor="end" fontSize={21} fontWeight={700} {...txt}>ΔpEC50</text>
        <text x={1172} y={2038} textAnchor="end" fontSize={22} fontWeight={700} {...txt}>ΔSpan</text>
      </svg>
    </div>
  );
}
